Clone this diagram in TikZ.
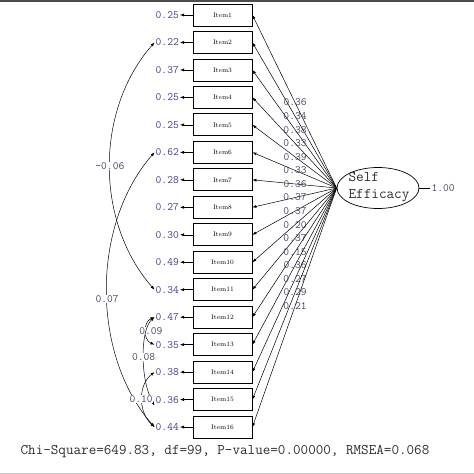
\documentclass[tikz,border=0pt]{standalone}
\usepackage{fontspec}
\usetikzlibrary{arrows.meta,shapes.geometric}
\definecolor{errc}{RGB}{72,60,140}
\definecolor{lodc}{RGB}{70,70,100}
\definecolor{txtc}{RGB}{45,45,50}
\begin{document}
\begin{tikzpicture}[x=1pt,y=-1pt,
  itembox/.style={draw=black,line width=0.8pt,minimum width=59pt,minimum height=22pt,inner sep=0pt,font=\fontsize{6.6}{7}\selectfont},
  errlab/.style={anchor=east,inner sep=1pt,text=errc,font=\ttfamily\fontsize{11.2}{12}\selectfont},
  lodlab/.style={inner sep=0.5pt,text=lodc,font=\ttfamily\fontsize{11.2}{12}\selectfont},
  covlab/.style={fill=white,inner sep=0.5pt,text=lodc,font=\ttfamily\fontsize{11.2}{12}\selectfont},
  arr/.style={-{Latex[length=4pt,width=3pt]},line width=0.5pt},
  dbl/.style={{Latex[length=4pt,width=3pt]}-{Latex[length=4pt,width=3pt]},line width=0.5pt}
]
\useasboundingbox (0,0) rectangle (474,474);
\fill[gray!60!black] (0,0) rectangle (474,1.5);
\fill[gray!40] (0,472.5) rectangle (474,474);

% latent variable
\node[ellipse,draw,line width=0.7pt,minimum width=82pt,minimum height=41pt,inner sep=0pt] (se) at (378,188) {};
\node[align=left,inner sep=0pt,text=txtc,font=\ttfamily\fontsize{14.8}{17}\selectfont] (setext) at (379,187) {Self\\Efficacy};
\draw[line width=0.6pt] (se.east) -- ++(11,0) node[anchor=west,inner sep=1pt,text=lodc,font=\ttfamily\fontsize{11.2}{12}\selectfont] (lv) {1.00};

% items and loadings
\foreach \i/\l in {1/0.36, 2/0.34, 3/0.38, 4/0.33, 5/0.39, 6/0.33, 7/0.36, 8/0.37, 9/0.37, 10/0.20, 11/0.37, 12/0.15, 13/0.36, 14/0.27, 15/0.29, 16/0.21}{
  \pgfmathsetmacro{\yy}{15+27.47*(\i-1)}
  \node[itembox] (i\i) at (222.5,\yy) {Item\i};
  \draw[arr] (se.west) -- (i\i.east) node[lodlab,pos=0.494] (l\i) {\l};
}

% covariances (drawn before error labels)
\foreach \i in {1,...,16}{
  \pgfmathsetmacro{\yy}{15+27.47*(\i-1)}
  \coordinate (c\i) at (154.5,\yy);
}
\draw[dbl] (c2) .. controls (95,110) and (95,222) .. (c11) node[covlab,pos=0.5] (k1) {-0.06};
\draw[dbl] (c6) .. controls (91,225) and (91,355) .. (c16) node[covlab,pos=0.53] (k2) {0.07};
\draw[dbl] (c12) .. controls (143,322) and (143,340) .. (c13) node[covlab,pos=0.5,xshift=5pt] (k3) {0.09};
\draw[dbl] (c12) .. controls (140,330) and (140,380) .. ([yshift=-6pt]c15) node[covlab,pos=0.5] (k4) {0.08};
\draw[dbl] (c14) .. controls (138,385) and (138,412) .. (c16) node[covlab,pos=0.5,xshift=-1pt] (k5) {0.10};

% error labels
\foreach \i/\e in {1/0.25, 2/0.22, 3/0.37, 4/0.25, 5/0.25, 6/0.62, 7/0.28, 8/0.27, 9/0.30, 10/0.49, 11/0.34, 12/0.47, 13/0.35, 14/0.38, 15/0.36, 16/0.44}{
  \pgfmathsetmacro{\yy}{15+27.47*(\i-1)}
  \node[errlab] (e\i) at (180,\yy) {\e};
  \draw[arr] (i\i.west) -- (e\i.east);
}

\node[text=txtc,font=\ttfamily\fontsize{14.7}{16}\selectfont] (chi) at (225,452) {Chi-Square=649.83, df=99, P-value=0.00000, RMSEA=0.068};
\end{tikzpicture}
\end{document}
